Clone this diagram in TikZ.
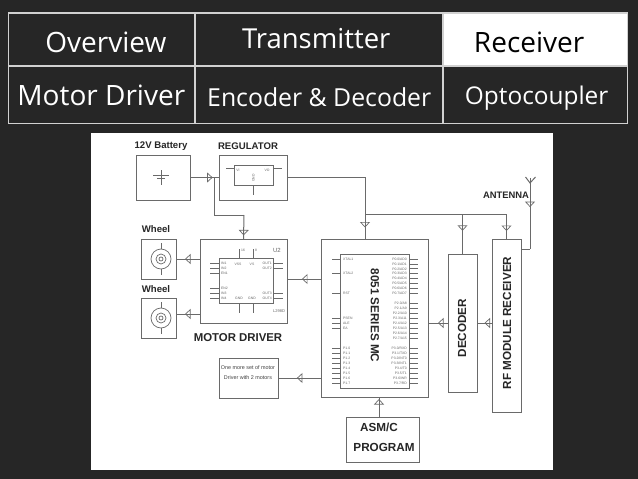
\documentclass[tikz,border=0pt]{standalone}
\usepackage{fontspec}
\setmainfont{Liberation Sans}
\newfontfamily\tabfont{Open Sans}
\usetikzlibrary{arrows.meta,decorations.markings,matrix}
\newcommand{\fs}[1]{\fontsize{#1}{#1}\selectfont}
\definecolor{slide}{HTML}{262626}
\definecolor{ink}{HTML}{6A6A6A}
\tikzset{
  tri/.tip={Triangle[open,length=5.5pt,width=10pt,line width=.7pt]},
  wire/.style={draw=ink,line width=1pt},
  flow/.style={postaction={decorate,decoration={markings,mark=at position #1 with {\arrow{tri}}}}},
  box/.style={draw=ink,line width=1pt,inner sep=0pt,outer sep=0pt},
  pin/.style={draw=ink,line width=.7pt},
  title/.style={inner sep=0pt,text=black!85,font=\bfseries\fs{9.6}},
  bigt/.style={inner sep=0pt,text=black!85,font=\bfseries\fs{11.7}},
  tiny/.style={inner sep=0pt,text=black!60,font=\fs{3.4}}
}
\begin{document}
\begin{tikzpicture}[x=1pt,y=-1pt]
\useasboundingbox (0,0) rectangle (638,479);
\fill[slide] (0,0) rectangle (638,479);
\matrix (tabs) [matrix of nodes,anchor=north west,
  nodes={draw=black!18,line width=1.3pt,text=white,anchor=center,inner sep=0pt,font=\tabfont\fs{28}},
  column 1/.style={nodes={minimum width=186pt}},
  column 2/.style={nodes={minimum width=247pt}},
  column 3/.style={nodes={minimum width=184pt}},
  row 1/.style={nodes={minimum height=53pt}},
  row 2/.style={nodes={minimum height=57pt}},
  row sep=-\pgflinewidth,column sep=-\pgflinewidth,inner sep=0pt] at (8,12) {
  |[text height=34pt,text depth=8pt]| Overview\hspace*{-8pt} & |[text height=26pt,text depth=8pt,font=\tabfont\fs{27.5}]| Transmitter\hspace*{6pt} & |[fill=white,text=black,text height=35pt,text depth=8pt]| Receiver\hspace*{13pt} \\
  Motor Driver\hspace*{1pt} & |[font=\tabfont\fs{24.8},text height=23pt]| Encoder \& Decoder & |[font=\tabfont\fs{24.4},text height=24.6pt]| Optocoupler\hspace*{-2pt} \\
};
\fill[white] (91,133) rectangle (553,470);
\node[box,minimum width=54pt,minimum height=45pt] (batt) at (163,177.5) {};
\node[box,minimum width=68pt,minimum height=45pt] (reg) at (253,177.5) {};
\node[box,minimum width=39pt,minimum height=20pt] (regic) at (253.5,175) {};
\node[box,minimum width=35pt,minimum height=40pt] (whl1) at (158.5,259) {};
\node[box,minimum width=35pt,minimum height=40pt] (whl2) at (158.5,318) {};
\node[box,minimum width=87pt,minimum height=84pt] (drv) at (243.5,281) {};
\node[box,minimum width=54pt,minimum height=45pt] (drvic) at (246,280.5) {};
\node[box,minimum width=107pt,minimum height=158pt] (mc) at (374.5,318) {};
\node[box,minimum width=69pt,minimum height=134pt] (mcic) at (374.5,321) {};
\node[box,minimum width=73pt,minimum height=45pt] (asm) at (382.5,439.5) {};
\node[box,minimum width=29pt,minimum height=138pt] (dec) at (462.5,323) {};
\node[box,minimum width=29pt,minimum height=173pt] (rf) at (506.5,325.5) {};
\node[box,minimum width=59pt,minimum height=40pt] (note) at (248.5,378) {};
\node[title] (battl) at (161,146) {12V Battery};
\node[title] (regl) at (248,146) {REGULATOR};
\node[title] (whl1l) at (156,229) {Wheel};
\node[title] (whl2l) at (156,289) {Wheel};
\node[title,font=\bfseries\fs{11.4}] (drvl) at (238,338) {MOTOR DRIVER};
\node[title,font=\bfseries\fs{9.4}] (antl) at (506,195) {ANTENNA};
\node[bigt,rotate=-90] (mcl) at (375,315.5) {8051 SERIES MC};
\node[bigt,rotate=90] (decl) at (462,328) {DECODER};
\node[bigt,rotate=90] (rfl) at (507,323) {RF MODULE RECEIVER};
\node[bigt] (asml) at (379,427) {ASM/C};
\node[bigt] (progl) at (384,447) {PROGRAM};
\node[inner sep=0pt,text=black!75,font=\fs{5.4}] (note1) at (248,368) {One more set of motor};
\node[inner sep=0pt,text=black!75,font=\fs{5.4}] (note2) at (248,378) {Driver with 2 motors};
\coordinate (j1) at (214,177.5);
\coordinate (j2) at (244,215);
\coordinate (pw) at (365,177.5);
\coordinate (pb) at (365,214);
\coordinate (ant) at (530,249);
\coordinate (anttop) at (530,178);
\coordinate (drvin) at (287,279);
\coordinate (whl2in) at (176,314);
\coordinate (asmup) at (379,417);
\draw[wire,flow=.78] (batt.east) -- (reg.west);
\draw[wire] (j1) |- (j2);
\draw[wire,flow=.85] (j2) -- (drv.north);
\draw[wire] (reg.east) -- (pw) -- (pb) -- (pb -| rf.north);
\draw[wire,flow=.54] (pb) -- (pb |- mc.north);
\draw[wire,flow=.42] (pb -| dec.north) -- (dec.north);
\draw[wire,flow=.68] (pb -| rf.north) -- (rf.north);
\draw[wire] (rf.north east |- ant) -- (ant);
\draw[wire,flow=.41] (anttop) -- (ant);
\draw[wire] (525.5,177) -- (530,183) -- (535.5,177);
\draw[wire,flow=.5] (rf.west |- dec.west) -- (dec.east);
\draw[wire,flow=.5] (dec.west) -- (mc.east |- dec.west);
\draw[wire,flow=.56] (mc.west |- drvin) -- (drvin);
\draw[wire,flow=.625] (drv.west |- whl1.east) -- (whl1.east);
\draw[wire,flow=.625] (drv.west |- whl2in) -- (whl2in);
\draw[wire,flow=.56] (mc.west |- note.east) -- (note.east);
\draw[wire,flow=.9] (asmup) -- (asmup |- mc.south);
\draw[pin] (153,175) -- (169,175) (157,178) -- (165,178) (161,170) -- (161,185);
\draw[pin] (226,168.5) -- (regic.west |- 0,168.5) (regic.east |- 0,168.5) -- (282,168.5) (regic.south) -- (253.5,195);
\node[tiny] (vi) at (238,170) {VI};
\node[tiny] (vo) at (267,170) {VO};
\node[tiny,rotate=90] (gnd) at (253.5,178) {GND};
\foreach \w in {whl1,whl2} {
  \draw[pin] (\w.center) ++(2.5,0) circle (10pt) ++(0,0) circle (5pt) circle (2pt);
  \draw[pin] (\w.center) ++(2.5,-16) -- ++(0,6) ++(0,20) -- ++(0,6);
}
\foreach \y/\t in {263/IN1,268/IN2,273/EN1,288/EN2,293/IN3,298/IN4} {
  \draw[pin] (210,\y) -- (219,\y);
  \node[tiny,anchor=west] (drv\t) at (221,\y) {\t};
}
\foreach \y/\t in {263/OUT1,268/OUT2,293/OUT3,298/OUT4} {
  \draw[pin] (273,\y) -- (283,\y);
  \node[tiny,anchor=east] (drv\t) at (272,\y) {\t};
}
\draw[pin] (239,249) -- (239,258) (253,249) -- (253,258) (239,303) -- (239,313) (253,303) -- (253,313);
\node[tiny] (vss) at (238,264) {VSS};
\node[tiny] (vs) at (252,264) {VS};
\node[tiny] (gnda) at (239,298) {GND};
\node[tiny] (gndb) at (252,298) {GND};
\node[tiny] (pn16) at (243,250) {16};
\node[tiny] (pn8) at (256,250) {8};
\node[inner sep=0pt,text=black!60,font=\fs{6}] (u2) at (277,250) {U2};
\node[tiny,font=\fs{4}] (l298) at (279,311) {L298D};
\foreach \y/\t in {259/XTAL1,273/XTAL2,293/RST,318/PSEN,323/ALE,328/EA} {
  \draw[pin] (332,\y) -- (340,\y);
  \node[tiny,anchor=west] (mc\t) at (343,\y) {\t};
}
\foreach \i in {0,...,7} {
  \pgfmathsetmacro{\ya}{348+5*\i}
  \pgfmathsetmacro{\yb}{259+4.9*\i}
  \pgfmathsetmacro{\yc}{303+5.1*\i}
  \draw[pin] (332,\ya) -- (340,\ya);
  \draw[pin] (409,\ya) -- (418,\ya) (409,\yb) -- (418,\yb) (409,\yc) -- (418,\yc);
  \node[tiny,anchor=west] (pa\i) at (343,\ya) {P1.\i};
  \node[tiny,anchor=east] (pb\i) at (407,\yb) {P0.\i/AD\i};
}
\foreach \i/\t in {0/A8,1/A9,2/A10,3/A11,4/A12,5/A13,6/A14,7/A15}
  \node[tiny,anchor=east] (pc\i) at (407,303+5.1*\i) {P2.\i/\t};
\foreach \i/\t in {0/RXD,1/TXD,2/INT0,3/INT1,4/T0,5/T1,6/WR,7/RD}
  \node[tiny,anchor=east] (pd\i) at (407,348+5*\i) {P3.\i/\t};
\end{tikzpicture}
\end{document}
